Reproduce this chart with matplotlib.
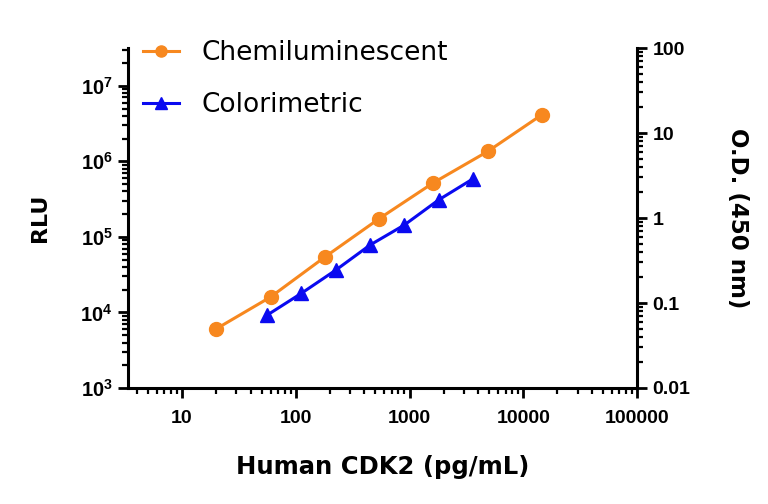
import math
import matplotlib
matplotlib.use("Agg")
import matplotlib.pyplot as plt
from matplotlib.ticker import LogLocator, FixedLocator, FuncFormatter, NullFormatter
from matplotlib.lines import Line2D

chemi_x = [20, 60, 180, 540, 1620, 4860, 14580]
chemi_rlu = [6070, 16000, 54100, 174000, 520000, 1350000, 4140000]
colo_x = [56, 112, 225, 450, 900, 1800, 3600]
colo_od = [0.072, 0.130, 0.244, 0.481, 0.827, 1.63, 2.88]

x_ticks = [10, 100, 1000, 10000, 100000]
x_tick_labels = ["10", "100", "1000", "10000", "100000"]
left_ticks = [1e3, 1e4, 1e5, 1e6, 1e7]
right_ticks = [0.01, 0.1, 1, 10, 100]
right_tick_labels = ["0.01", "0.1", "1", "10", "100"]

orange = "#F7881F"
blue = "#0A0AF0"

plt.rcParams['mathtext.fontset'] = 'custom'
plt.rcParams['mathtext.rm'] = 'Liberation Sans:bold'
plt.rcParams['mathtext.bf'] = 'Liberation Sans:bold'
plt.rcParams['mathtext.it'] = 'Liberation Sans:bold'

fig = plt.figure(figsize=(7.68, 5.04), dpi=100)
ax = fig.add_axes([128/768, 1-388/504, (637-128)/768, (388-48)/504])
ax2 = ax.twinx()

ax.set_xscale('log')
ax.set_yscale('log')
ax2.set_yscale('log')
ax.set_xlim(3.35, 1e5)
ax.set_ylim(1e3, 10**7.5)
ax2.set_ylim(0.01, 100)

lw_sp = 2.2
for a in (ax, ax2):
    a.spines['top'].set_visible(False)
    for s in ['left', 'bottom', 'right']:
        a.spines[s].set_linewidth(lw_sp)
ax.spines['right'].set_visible(False)
ax2.spines['left'].set_visible(False)
ax2.spines['bottom'].set_visible(False)

ax.plot(chemi_x, chemi_rlu, color=orange, lw=2.2, marker='o', ms=10, zorder=3)
ax2.plot(colo_x, colo_od, color=blue, lw=2.2, marker='^', ms=10, zorder=3)

tick_font = dict(family='Liberation Sans', weight='bold', size=14)
ax.xaxis.set_major_locator(FixedLocator(x_ticks))
ax.set_xticklabels(x_tick_labels, **tick_font)
ax.xaxis.set_minor_locator(LogLocator(base=10, subs=range(2, 10), numticks=20))
ax.xaxis.set_minor_formatter(NullFormatter())

ax.yaxis.set_major_locator(FixedLocator(left_ticks))
ax.yaxis.set_major_formatter(FuncFormatter(lambda v, p: r'$\mathbf{10^{%d}}$' % round(math.log10(v))))
ax.yaxis.set_minor_locator(LogLocator(base=10, subs=range(2, 10), numticks=20))
ax.yaxis.set_minor_formatter(NullFormatter())

ax2.yaxis.set_major_locator(FixedLocator(right_ticks))
ax2.set_yticklabels(right_tick_labels, **tick_font)
ax2.yaxis.set_minor_locator(LogLocator(base=10, subs=range(2, 10), numticks=20))
ax2.yaxis.set_minor_formatter(NullFormatter())

for a in (ax, ax2):
    a.tick_params(which='major', direction='out', length=7, width=2.0, pad=4)
    a.tick_params(which='minor', direction='out', length=4, width=1.6)
ax.tick_params(axis='y', labelsize=14.5)
ax.tick_params(axis='x', which='major', pad=9)

ax.set_xlabel("Human CDK2 (pg/mL)", labelpad=20, family='DejaVu Sans', weight='bold', size=17.5)
ax.set_ylabel("RLU", labelpad=22, family='DejaVu Sans', weight='bold', size=16)
ax2.set_ylabel("O.D. (450 nm)", rotation=-90, labelpad=26, va='bottom',
               family='DejaVu Sans', weight='bold', size=16.5)

handles = [Line2D([], [], color=orange, lw=2.2, marker='o', ms=8),
           Line2D([], [], color=blue, lw=2.2, marker='^', ms=8)]
fig.legend(handles, ["Chemiluminescent", "Colorimetric"], loc='upper left',
           bbox_to_anchor=(143/768, 1-40/504), bbox_transform=fig.transFigure,
           frameon=False, handlelength=1.35, borderpad=0, borderaxespad=0,
           prop=dict(family='DejaVu Sans', size=19), labelspacing=1.0, handletextpad=0.85)

fig.savefig("out.png", dpi=100)
